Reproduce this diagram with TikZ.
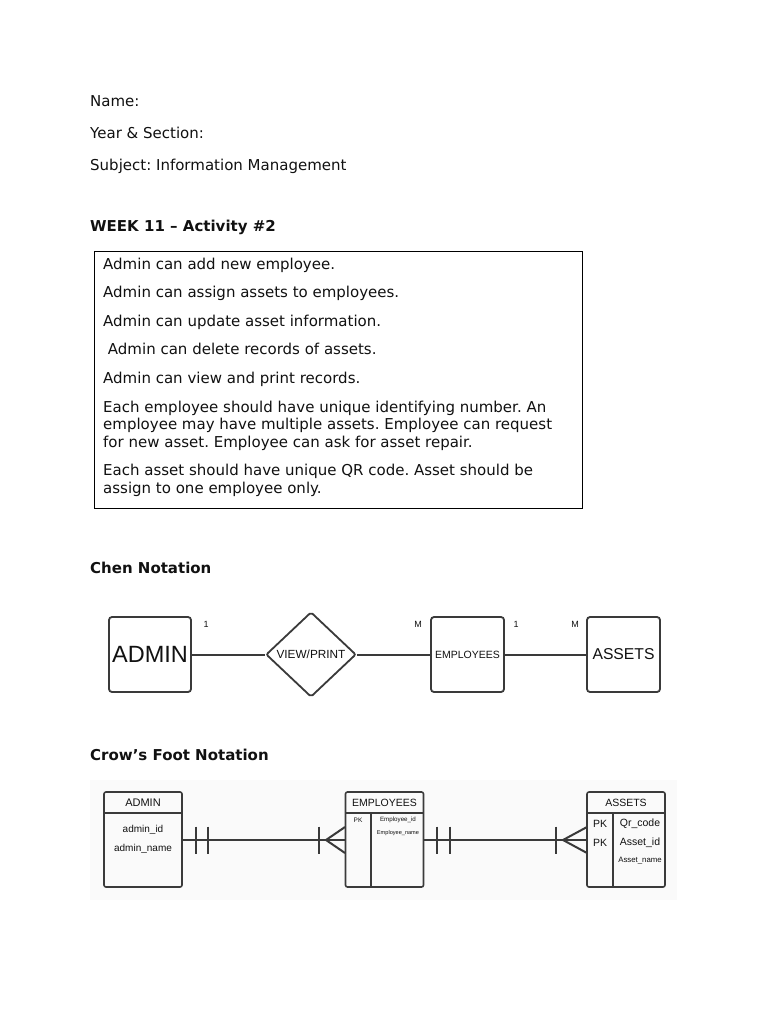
\documentclass[tikz,border=0pt]{standalone}
\usepackage{fontspec}
\setmainfont{DejaVu Sans}
\newfontfamily\arial{Liberation Sans}
\usetikzlibrary{shapes.geometric}
\definecolor{ink}{HTML}{3A3A3A}
\definecolor{txtc}{HTML}{111111}
\definecolor{bgc}{HTML}{FAFAFA}
\frenchspacing
\begin{document}
\begin{tikzpicture}[x=1pt,y=-1pt,
  doc/.style={anchor=base west, inner sep=0, text=txtc, font=\fontsize{15}{17.5}\selectfont},
  hd/.style={anchor=base west, inner sep=0, text=txtc, font=\fontsize{15}{17.5}\selectfont\bfseries},
  ent/.style={draw=ink, line width=1.8pt, rounded corners=3pt, inner sep=0, text=txtc},
  tbl/.style={draw=ink, line width=1.6pt, rounded corners=2pt, inner sep=0, minimum width=78, minimum height=95},
  lnk/.style={draw=ink, line width=2pt},
  card/.style={inner sep=0, text=txtc, font=\arial\fontsize{9}{10}\selectfont},
  fld/.style={inner sep=0, text=txtc, font=\arial\fontsize{10}{11}\selectfont}
]
\useasboundingbox[fill=white] (0,0) rectangle (768,1024);

% header text
\node[doc] (nm) at (90,106.5) {Name:};
\node[doc] (ys) at (90,138.5) {Year \& Section:};
\node[doc] (sb) at (90,170.5) {Subject: Information Management};
\node[hd] (wk) at (90,231.5) {WEEK 11 – Activity \#2};

% requirements box
\draw[line width=0.8pt, black] (94,251) rectangle (582,508);
\node[doc] (r1) at (103,269.5) {Admin can add new employee.};
\node[doc] (r2) at (103,297.5) {Admin can assign assets to employees.};
\node[doc] (r3) at (103,326) {Admin can update asset information.};
\node[doc] (r4) at (103,354.5) {\ Admin can delete records of assets.};
\node[doc] (r5) at (103,383) {Admin can view and print records.};
\node[doc] (r6) at (103,412) {Each employee should have unique identifying number. An};
\node[doc] (r7) at (103,429.5) {employee may have multiple assets. Employee can request};
\node[doc] (r8) at (103,447) {for new asset. Employee can ask for asset repair.};
\node[doc] (r9) at (103,475.5) {Each asset should have unique QR code. Asset should be};
\node[doc] (r10) at (103,493) {assign to one employee only.};

% Chen notation
\node[hd] (chen) at (90,573.5) {Chen Notation};
\node[ent, minimum width=82, minimum height=75, font=\arial\fontsize{23.5}{25}\selectfont] (cadmin) at (150,654.5) {ADMIN};
\node[draw=ink, line width=1.8pt, diamond, minimum width=90, minimum height=85, inner sep=0, rounded corners=2pt,
      label={[text=txtc, font=\arial\fontsize{11.8}{13}\selectfont]center:VIEW/PRINT}] (vp) at (311,654.5) {};
\node[ent, minimum width=73, minimum height=75, font=\arial\fontsize{10.5}{12}\selectfont] (cemp) at (467.5,654.5) {EMPLOYEES};
\node[ent, minimum width=73, minimum height=75, font=\arial\fontsize{15.7}{17}\selectfont] (cass) at (623.5,654.5) {ASSETS};
\draw[lnk] (cadmin.east) -- (vp.west);
\draw[lnk] (vp.east) -- (cemp.west);
\draw[lnk] (cemp.east) -- (cass.west);
\node[card] (c1) at (206,624) {1};
\node[card] (c2) at (418,624) {M};
\node[card] (c3) at (516,624) {1};
\node[card] (c4) at (575,624) {M};

% Crow's foot notation
\node[hd] (crow) at (90,760.5) {Crow’s Foot Notation};
\fill[bgc] (90,780) rectangle (677,900);

\node[tbl] (tadm) at (143,839.5) {};
\draw[ink, line width=1.3pt] (104,813) -- (182,813);
\node[fld, font=\arial\fontsize{11}{12}\selectfont] (tadmh) at (143,803) {ADMIN};
\node[fld] (tadm1) at (143,830) {admin\_id};
\node[fld] (tadm2) at (143,849) {admin\_name};

\node[tbl] (temp) at (384.5,839.5) {};
\draw[ink, line width=1.3pt] (345,813) -- (424,813);
\draw[ink, line width=1.3pt] (371,813) -- (371,887);
\node[fld, font=\arial\fontsize{10.5}{12}\selectfont] (temph) at (384.5,803) {EMPLOYEES};
\node[fld, font=\arial\fontsize{6.5}{7}\selectfont] (temppk) at (358,820) {PK};
\node[fld, font=\arial\fontsize{6.2}{7}\selectfont] (temp1) at (398,820) {Employee\_id};
\node[fld, font=\arial\fontsize{5.6}{6}\selectfont] (temp2) at (398,833) {Employee\_name};

\node[tbl] (tass) at (626,839.5) {};
\draw[ink, line width=1.3pt] (587,813) -- (665,813);
\draw[ink, line width=1.3pt] (613,813) -- (613,887);
\node[fld, font=\arial\fontsize{10.5}{12}\selectfont] (tassh) at (626,803) {ASSETS};
\node[fld, font=\arial\fontsize{10.5}{12}\selectfont] (tasspk1) at (600,824) {PK};
\node[fld, font=\arial\fontsize{10.5}{12}\selectfont] (tasspk2) at (600,843) {PK};
\node[fld, font=\arial\fontsize{10.5}{12}\selectfont] (tass1) at (640,824) {Qr\_code};
\node[fld, font=\arial\fontsize{10.5}{12}\selectfont] (tass2) at (640,843) {Asset\_id};
\node[fld, font=\arial\fontsize{7.8}{9}\selectfont] (tass3) at (640,861) {Asset\_name};

% relationships
\draw[lnk] (tadm.east) -- (temp.west);
\draw[lnk] (temp.east) -- (tass.west);
% one-and-only-one marks
\draw[lnk] (196,826.5) -- (196,853.5) (208,826.5) -- (208,853.5);
\draw[lnk] (437,826.5) -- (437,853.5) (450,826.5) -- (450,853.5);
% one-or-many marks
\draw[lnk] (319,826.5) -- (319,853.5);
\draw[lnk] (345,827) -- (326,840) -- (345,853);
\draw[lnk] (556,826.5) -- (556,853.5);
\draw[lnk] (587,827) -- (563,840) -- (587,853);
\end{tikzpicture}
\end{document}
